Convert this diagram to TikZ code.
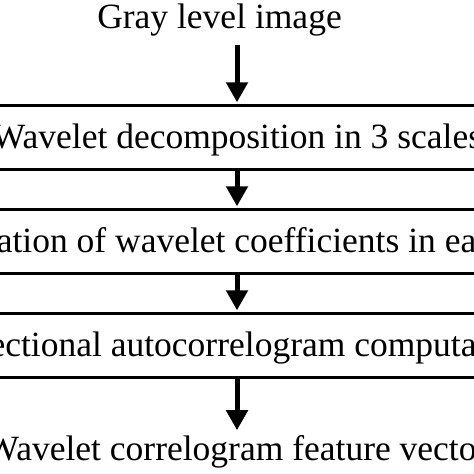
\documentclass[tikz,border=0pt]{standalone}
\usepackage{fontspec}
\setmainfont{Liberation Serif}
\usepackage{tikz}
\usetikzlibrary{arrows.meta,positioning}

\begin{document}
\begin{tikzpicture}[x=1pt, y=1pt,
      caja/.style={rectangle, draw=black, line width=3.2pt, inner sep=0pt,
                   minimum width=760pt, minimum height=64pt,
                   text height=25pt, text depth=2.4pt, font=\fontsize{35.5}{42}\selectfont},
      texto/.style={inner xsep=0pt, font=\fontsize{35.5}{42}\selectfont},
      flecha/.style={-{Triangle[length=20pt, width=21pt]}, line width=5pt, draw=black, shorten >=1.6pt}
    ]
    \useasboundingbox (0,0) rectangle (474,474);
    \clip (0,0) rectangle (474,474);
    \node[texto, anchor=base, inner ysep=9pt] (gris) at (219.5,445.7) {Gray level image};
    \node[caja] (descomp) at (237,336.5) {Wavelet decomposition in 3 scales};
    \node[caja] (cuant) at (237,232.5) {Quantization of wavelet coefficients in each scale};
    \node[caja] (direc) at (237,128.5) {Directional autocorrelogram computation};
    \node[texto, anchor=base, inner ysep=4pt] (vector) at (237,13) {Wavelet correlogram feature vector};
    \draw[flecha] (descomp.north |- gris.south) -- (descomp);
    \draw[flecha] (descomp) -- (cuant);
    \draw[flecha] (cuant) -- (direc);
    \draw[flecha] (direc) -- (vector);
  \end{tikzpicture}
\end{document}
